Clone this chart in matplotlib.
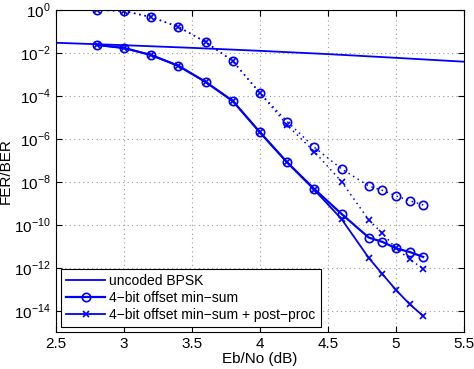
import numpy as np
import matplotlib
matplotlib.use("Agg")
import matplotlib.pyplot as plt

plt.rcParams['font.family'] = ['Liberation Sans', 'DejaVu Sans']
plt.rcParams['mathtext.fontset'] = 'custom'
plt.rcParams['mathtext.rm'] = 'Liberation Sans'

# Data
ebno = [2.8, 3.0, 3.2, 3.4, 3.6, 3.8, 4.0, 4.2, 4.4, 4.6, 4.8, 4.9, 5.0, 5.1, 5.2]
fer_ms_log = [0.0, -0.05, -0.33, -0.79, -1.49, -2.38, -3.87, -5.2, -6.4, -7.4, -8.2, -8.4, -8.66, -8.88, -9.08]
fer_pp_log = [0.0, -0.05, -0.33, -0.79, -1.49, -2.38, -3.87, -5.36, -6.6, -8.0, -9.78, -10.4, -11.1, -11.6, -12.06]
ber_ms_log = [-1.63, -1.77, -2.1, -2.6, -3.35, -4.24, -5.7, -7.1, -8.34, -9.5, -10.6, -10.8, -11.1, -11.27, -11.5]
ber_pp_log = [-1.63, -1.77, -2.1, -2.6, -3.35, -4.24, -5.7, -7.1, -8.38, -9.74, -11.55, -12.3, -13.04, -13.7, -14.25]
bpsk_x = [2.5, 3.0, 3.5, 4.0, 4.5, 5.0, 5.5]
bpsk_y = [0.0297, 0.0229, 0.0172, 0.0125, 0.0088, 0.0059, 0.0039]
yticks_exp = [0, -2, -4, -6, -8, -10, -12, -14]
xticks = [2.5, 3, 3.5, 4, 4.5, 5, 5.5]

col = '#0000ff'
fig = plt.figure(figsize=(4.74, 3.69), dpi=100)
ax = fig.add_axes([0.118, 0.100, 0.861, 0.873])

def p(v):
    return 10.0 ** np.array(v)

dots = (0, (1, 2.5))
l1, = ax.semilogy(bpsk_x, bpsk_y, '-', color=col, lw=1.3, label='uncoded BPSK')
l2, = ax.semilogy(ebno, p(ber_ms_log), '-', marker='o', ms=6, mfc='none', mew=1.2,
                  color=col, lw=1.6, label='4\u2212bit offset min\u2212sum')
l3, = ax.semilogy(ebno, p(ber_pp_log), '-', marker='x', ms=4.5, mew=1.2,
                  color=col, lw=1.3, label='4\u2212bit offset min\u2212sum + post\u2212proc')
ax.semilogy(ebno, p(fer_ms_log), linestyle=dots, marker='o', ms=6, mfc='none', mew=1.2, color=col, lw=1.1)
ax.semilogy(ebno, p(fer_pp_log), linestyle=dots, marker='x', ms=4.5, mew=1.2, color=col, lw=1.1)

ax.set_xlim(2.5, 5.5)
ax.set_ylim(1e-15, 1)
ax.set_xticks(xticks)
ax.set_xticklabels(['2.5', '3', '3.5', '4', '4.5', '5', '5.5'])
ax.set_yticks([10.0 ** e for e in yticks_exp])
ax.set_yticklabels([r'$10^{%d}$' % e for e in yticks_exp])
ax.yaxis.set_minor_locator(matplotlib.ticker.NullLocator())
ax.tick_params(direction='in', labelsize=11, top=True, right=True, length=4)
ax.grid(True, which='major', linestyle=(0, (1, 3)), color='#999999', lw=0.8)
ax.set_xlabel('Eb/No (dB)', fontsize=11, labelpad=1)
ax.set_ylabel('FER/BER', fontsize=11, labelpad=1)
for s in ax.spines.values():
    s.set_linewidth(0.8)

leg = ax.legend(handles=[l1, l2, l3], loc='lower left', fontsize=10, fancybox=False,
                edgecolor='black', framealpha=1, borderpad=0.35, labelspacing=0.2,
                handlelength=2.8, handletextpad=0.3, borderaxespad=0.4)
leg.get_frame().set_linewidth(0.8)

fig.savefig('out.png', dpi=100)
